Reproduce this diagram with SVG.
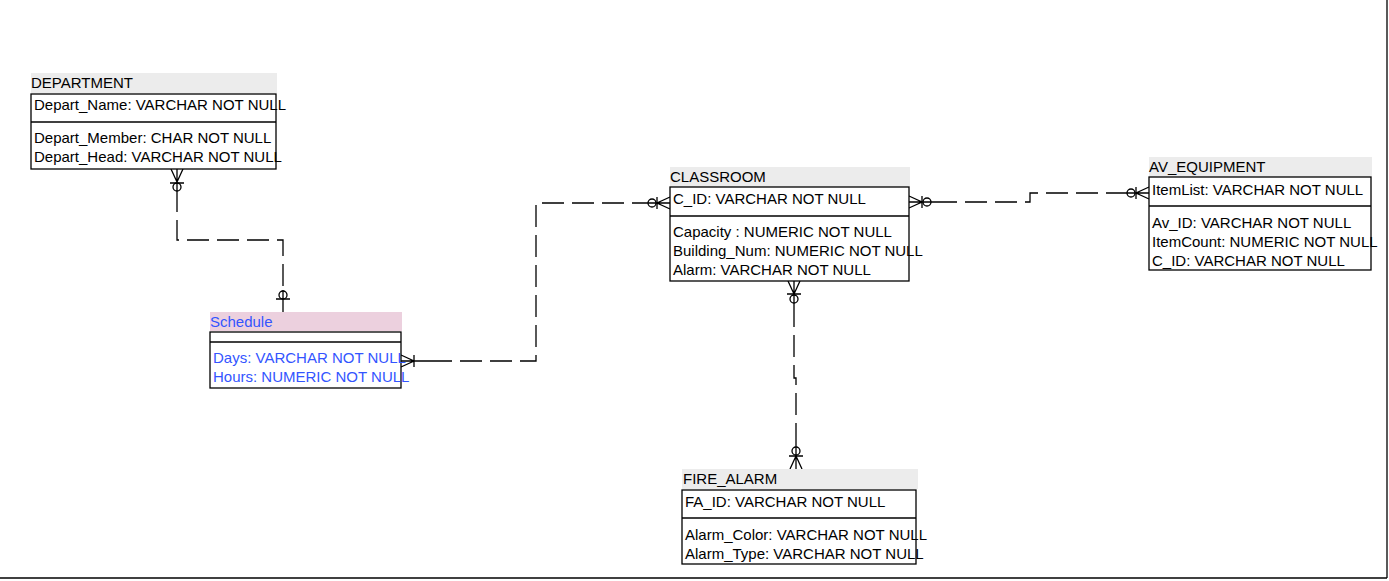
<svg xmlns="http://www.w3.org/2000/svg" width="1389" height="581" viewBox="0 0 1389 581">
<style>
text{font-family:"Liberation Sans",Arial,sans-serif;font-size:15px;fill:#000}
.b text{fill:#3355ff}
.hd{fill:#ececec}
.bx{fill:#fff;stroke:#000;stroke-width:1.3}
.c{fill:none;stroke:#000;stroke-width:1.3;stroke-dasharray:22,8}
.m{fill:none;stroke:#000;stroke-width:1.3}
</style>
<rect width="1389" height="581" fill="#fff"/>
<line x1="1387" y1="0" x2="1387" y2="578" class="m" stroke-width="2"/>
<line x1="0" y1="578" x2="1387" y2="578" class="m" stroke-width="2"/>
<g id="connectors">
<path class="c" d="M177,190 V240 H283 V290"/>
<path class="m" d="M177,169 V190 M171,169 L177,182 L183,169 M170,183 H184 M283,290 V312 M276,299 H290"/>
<circle class="m" cx="177" cy="187" r="4"/><circle class="m" cx="283" cy="295" r="4"/>
<path class="c" d="M430,361 H536 V203 H645"/>
<path class="m" d="M401,361 H430 M401,355 L414,361 L401,367 M414,355 V367 M645,203 H670 M670,197 L657,203 L670,209 M657,197 V209"/>
<circle class="m" cx="652" cy="203" r="4"/>
<path class="c" d="M935,202 H1030 V193 H1125"/>
<path class="m" d="M909,202 H935 M909,196 L922,202 L909,208 M922,196 V208 M1125,193 H1149 M1149,187 L1136,193 L1149,199 M1136,187 V199"/>
<circle class="m" cx="927" cy="202" r="4"/><circle class="m" cx="1131" cy="193" r="4"/>
<path class="c" d="M794,305 V378 H796 V445"/>
<path class="m" d="M794,281 V305 M788,281 L794,294 L800,281 M787,294 H801 M796,445 V469 M790,469 L796,456 L802,469 M789,456 H803"/>
<circle class="m" cx="794" cy="299" r="4"/><circle class="m" cx="796" cy="451" r="4"/>
</g>
<g id="department">
<rect class="hd" x="31" y="73" width="246" height="20"/>
<text x="31" y="88">DEPARTMENT</text>
<rect class="bx" x="31" y="94" width="245" height="75"/>
<line class="m" x1="31" y1="122" x2="276" y2="122"/>
<text x="34" y="110">Depart_Name: VARCHAR   NOT NULL</text>
<text x="34" y="143">Depart_Member: CHAR   NOT NULL</text>
<text x="34" y="162">Depart_Head: VARCHAR   NOT NULL</text>
</g>
<g id="schedule" class="b">
<rect x="210" y="312" width="192" height="19" fill="#ecd0de"/>
<text x="210" y="327">Schedule</text>
<rect class="bx" x="210" y="332" width="191" height="56"/>
<line class="m" x1="210" y1="342" x2="401" y2="342"/>
<text x="213" y="363">Days: VARCHAR   NOT NULL</text>
<text x="213" y="382">Hours: NUMERIC   NOT NULL</text>
</g>
<g id="classroom">
<rect class="hd" x="670" y="167" width="240" height="20"/>
<text x="670" y="182">CLASSROOM</text>
<rect class="bx" x="670" y="187" width="239" height="94"/>
<line class="m" x1="670" y1="216" x2="909" y2="216"/>
<text x="673" y="204">C_ID: VARCHAR   NOT NULL</text>
<text x="673" y="237">Capacity : NUMERIC   NOT NULL</text>
<text x="673" y="256">Building_Num: NUMERIC   NOT NULL</text>
<text x="673" y="275">Alarm: VARCHAR   NOT NULL</text>
</g>
<g id="av_equipment">
<rect class="hd" x="1149" y="157" width="223" height="20"/>
<text x="1149" y="172">AV_EQUIPMENT</text>
<rect class="bx" x="1149" y="177" width="222" height="93"/>
<line class="m" x1="1149" y1="206" x2="1371" y2="206"/>
<text x="1152" y="195">ItemList: VARCHAR   NOT NULL</text>
<text x="1152" y="228">Av_ID: VARCHAR   NOT NULL</text>
<text x="1152" y="247">ItemCount: NUMERIC   NOT NULL</text>
<text x="1152" y="266">C_ID: VARCHAR   NOT NULL</text>
</g>
<g id="fire_alarm">
<rect class="hd" x="682" y="469" width="236" height="20"/>
<text x="683" y="484">FIRE_ALARM</text>
<rect class="bx" x="682" y="490" width="234" height="74"/>
<line class="m" x1="682" y1="518" x2="916" y2="518"/>
<text x="685" y="507">FA_ID: VARCHAR   NOT NULL</text>
<text x="685" y="540">Alarm_Color: VARCHAR   NOT NULL</text>
<text x="685" y="559">Alarm_Type: VARCHAR   NOT NULL</text>
</g>
<rect x="1388" y="0" width="1" height="581" fill="#fff"/>
</svg>
